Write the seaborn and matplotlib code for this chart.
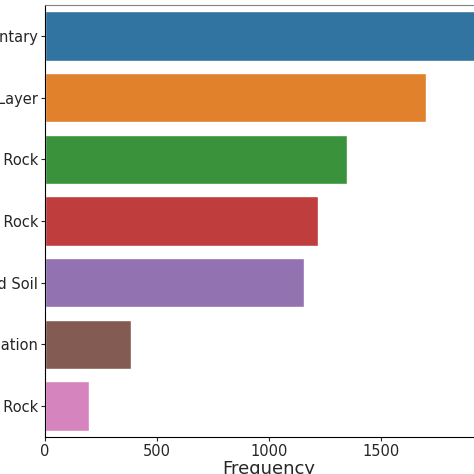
import matplotlib
matplotlib.use("Agg")
import matplotlib.pyplot as plt
import seaborn as sns
import pandas as pd

# %% DATA
categories = ["Sedimentary", "Fill Layer", "Weathered Rock", "Soft Rock",
              "Weathered Soil", "Formation", "Quarry Rock"]
frequency = [2100, 1700, 1348, 1218, 1156, 384, 196]

df = pd.DataFrame({"Category": categories, "Frequency": frequency})

# %% PLOTTING
sns.set_style("white")
fig = plt.figure(figsize=(4.74, 4.74), dpi=100)
# axes run past the right edge, labels past the left edge (cropped look)
ax = fig.add_axes([45 / 474, 37 / 474, (493 - 45) / 474, (469 - 37) / 474])
sns.barplot(data=df, x="Frequency", y="Category", hue="Category",
            palette="tab10", saturation=0.75, ax=ax, legend=False)
ax.set_xlim(0, 2000)
ax.set_xticks([0, 500, 1000, 1500])
ax.set_ylabel("")
ax.set_xlabel("Frequency", fontsize=13, labelpad=1)
ax.tick_params(axis="both", labelsize=10.5, length=3, pad=2, left=True, bottom=True)
for s in ["left", "bottom"]:
    ax.spines[s].set_color("black")
ax.spines["top"].set_color("gray")

fig.savefig("out.png", dpi=100)
